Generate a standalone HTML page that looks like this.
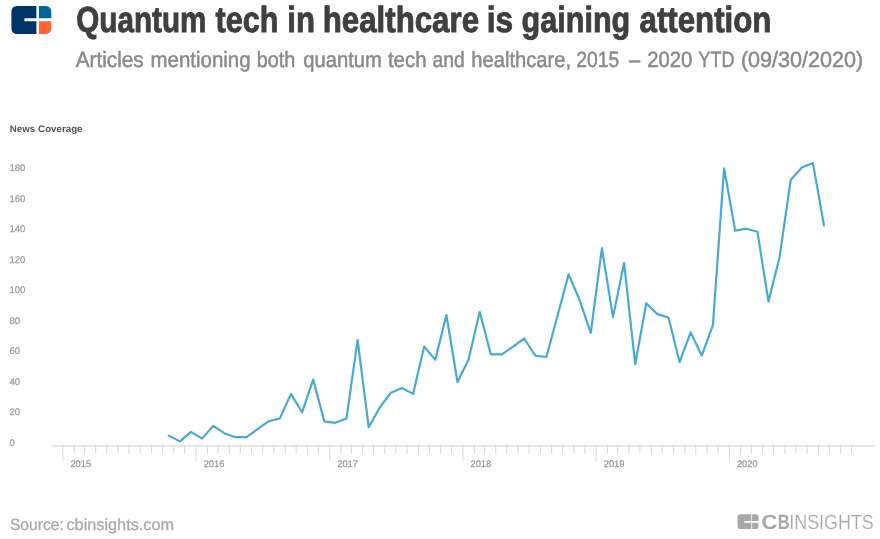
<!DOCTYPE html>
<html lang="en">
<head>
<meta charset="utf-8">
<title>Quantum tech in healthcare is gaining attention</title>
<style>
html,body{margin:0;padding:0;background:#fff;}
body{width:880px;height:539px;overflow:hidden;}
svg{display:block;}
g.ns text{vector-effect:non-scaling-stroke;}
text{text-rendering:geometricPrecision;font-family:"Liberation Sans",sans-serif;}
</style>
</head>
<body>
<svg width="880" height="539" viewBox="0 0 880 539">
<rect width="880" height="539" fill="#ffffff"/>
<!-- CB logo -->
<g>
<path d="M16.9 5.9 H36.4 V18.3 H24.4 V21.3 H36.4 V34.1 H16.9 A5.5 5.5 0 0 1 11.4 28.6 V11.4 A5.5 5.5 0 0 1 16.9 5.9 Z" fill="#003366"/>
<path d="M38.9 5.9 H45.8 A5.5 5.5 0 0 1 51.3 11.4 V18.3 H38.9 Z" fill="#006699"/>
<path d="M38.9 21.3 H51.3 V28.6 A5.5 5.5 0 0 1 45.8 34.1 H38.9 Z" fill="#ff6633"/>
</g>
<g font-size="36.3" font-weight="bold" fill="#3f3f3f" stroke="#3f3f3f" stroke-width="0.9" vector-effect="non-scaling-stroke" class="ns">
<text transform="translate(76.26,31.8) scale(0.8166,1) rotate(0.02)">Quantum</text>
<text transform="translate(215.47,31.8) scale(0.8421,1) rotate(0.02)">tech</text>
<text transform="translate(287.27,31.8) scale(0.8583,1) rotate(0.02)">in</text>
<text transform="translate(322.66,31.8) scale(0.8613,1) rotate(0.02)">healthcare</text>
<text transform="translate(486.74,31.8) scale(0.8712,1) rotate(0.02)">is</text>
<text transform="translate(521.53,31.8) scale(0.8428,1) rotate(0.02)">gaining</text>
<text transform="translate(639.51,31.8) scale(0.8611,1) rotate(0.02)">attention</text>
</g>
<g font-size="22" fill="#8a8a8a" stroke="#8a8a8a" stroke-width="0.5" class="ns">
<text transform="translate(75.70,67.3) scale(0.9435,1) rotate(0.02)">Articles</text>
<text transform="translate(150.57,67.3) scale(0.9291,1) rotate(0.02)">mentioning</text>
<text transform="translate(256.76,67.3) scale(0.9003,1) rotate(0.02)">both</text>
<text transform="translate(303.14,67.3) scale(0.9193,1) rotate(0.02)">quantum</text>
<text transform="translate(387.94,67.3) scale(0.9279,1) rotate(0.02)">tech</text>
<text transform="translate(432.43,67.3) scale(0.8800,1) rotate(0.02)">and</text>
<text transform="translate(471.34,67.3) scale(0.9162,1) rotate(0.02)">healthcare,</text>
<text transform="translate(576.28,67.3) scale(0.8792,1) rotate(0.02)">2015</text>
<text transform="translate(629.00,67.3) scale(0.5114,1) rotate(0.02)">—</text>
<text transform="translate(647.24,67.3) scale(0.9208,1) rotate(0.02)">2020</text>
<text transform="translate(698.60,67.3) scale(0.8125,1) rotate(0.02)">YTD</text>
<text transform="translate(740.90,67.3) scale(0.9791,1) rotate(0.02)">(09/30/2020)</text>
</g>
<g font-size="9.6" font-weight="bold" fill="#555555">
<text transform="translate(9.84,131.6) scale(1.0115,1) rotate(0.02)">News</text>
<text transform="translate(38.11,131.6) scale(1.0150,1) rotate(0.02)">Coverage</text>
</g>
<g font-size="9.6" fill="#9c9c9c" stroke="#9c9c9c" stroke-width="0.25">
<text transform="translate(9.4,446.0) rotate(0.02)">0</text>
<text transform="translate(9.4,415.4) rotate(0.02)">20</text>
<text transform="translate(9.4,384.9) rotate(0.02)">40</text>
<text transform="translate(9.4,354.3) rotate(0.02)">60</text>
<text transform="translate(9.4,323.8) rotate(0.02)">80</text>
<text transform="translate(9.4,293.2) rotate(0.02)">100</text>
<text transform="translate(9.4,262.7) rotate(0.02)">120</text>
<text transform="translate(9.4,232.1) rotate(0.02)">140</text>
<text transform="translate(9.4,201.6) rotate(0.02)">160</text>
<text transform="translate(9.4,171.0) rotate(0.02)">180</text>
</g>
<g stroke="#d8d8d8" stroke-width="1" fill="none">
<line x1="52" y1="445.8" x2="875.5" y2="445.8" stroke-width="1.15"/>
<line x1="62.90" y1="445.5" x2="62.90" y2="461"/>
<line x1="74.22" y1="445.5" x2="74.22" y2="453.7"/>
<line x1="84.44" y1="445.5" x2="84.44" y2="453.7"/>
<line x1="95.75" y1="445.5" x2="95.75" y2="453.7"/>
<line x1="106.70" y1="445.5" x2="106.70" y2="453.7"/>
<line x1="118.02" y1="445.5" x2="118.02" y2="453.7"/>
<line x1="128.97" y1="445.5" x2="128.97" y2="453.7"/>
<line x1="140.28" y1="445.5" x2="140.28" y2="453.7"/>
<line x1="151.60" y1="445.5" x2="151.60" y2="453.7"/>
<line x1="162.55" y1="445.5" x2="162.55" y2="453.7"/>
<line x1="173.86" y1="445.5" x2="173.86" y2="453.7"/>
<line x1="184.81" y1="445.5" x2="184.81" y2="453.7"/>
<line x1="196.13" y1="445.5" x2="196.13" y2="461"/>
<line x1="207.44" y1="445.5" x2="207.44" y2="453.7"/>
<line x1="218.03" y1="445.5" x2="218.03" y2="453.7"/>
<line x1="229.34" y1="445.5" x2="229.34" y2="453.7"/>
<line x1="240.29" y1="445.5" x2="240.29" y2="453.7"/>
<line x1="251.61" y1="445.5" x2="251.61" y2="453.7"/>
<line x1="262.56" y1="445.5" x2="262.56" y2="453.7"/>
<line x1="273.87" y1="445.5" x2="273.87" y2="453.7"/>
<line x1="285.19" y1="445.5" x2="285.19" y2="453.7"/>
<line x1="296.14" y1="445.5" x2="296.14" y2="453.7"/>
<line x1="307.45" y1="445.5" x2="307.45" y2="453.7"/>
<line x1="318.40" y1="445.5" x2="318.40" y2="453.7"/>
<line x1="329.72" y1="445.5" x2="329.72" y2="461"/>
<line x1="341.03" y1="445.5" x2="341.03" y2="453.7"/>
<line x1="351.25" y1="445.5" x2="351.25" y2="453.7"/>
<line x1="362.57" y1="445.5" x2="362.57" y2="453.7"/>
<line x1="373.52" y1="445.5" x2="373.52" y2="453.7"/>
<line x1="384.83" y1="445.5" x2="384.83" y2="453.7"/>
<line x1="395.78" y1="445.5" x2="395.78" y2="453.7"/>
<line x1="407.10" y1="445.5" x2="407.10" y2="453.7"/>
<line x1="418.42" y1="445.5" x2="418.42" y2="453.7"/>
<line x1="429.37" y1="445.5" x2="429.37" y2="453.7"/>
<line x1="440.68" y1="445.5" x2="440.68" y2="453.7"/>
<line x1="451.63" y1="445.5" x2="451.63" y2="453.7"/>
<line x1="462.95" y1="445.5" x2="462.95" y2="461"/>
<line x1="474.26" y1="445.5" x2="474.26" y2="453.7"/>
<line x1="484.48" y1="445.5" x2="484.48" y2="453.7"/>
<line x1="495.80" y1="445.5" x2="495.80" y2="453.7"/>
<line x1="506.75" y1="445.5" x2="506.75" y2="453.7"/>
<line x1="518.06" y1="445.5" x2="518.06" y2="453.7"/>
<line x1="529.01" y1="445.5" x2="529.01" y2="453.7"/>
<line x1="540.33" y1="445.5" x2="540.33" y2="453.7"/>
<line x1="551.64" y1="445.5" x2="551.64" y2="453.7"/>
<line x1="562.59" y1="445.5" x2="562.59" y2="453.7"/>
<line x1="573.91" y1="445.5" x2="573.91" y2="453.7"/>
<line x1="584.86" y1="445.5" x2="584.86" y2="453.7"/>
<line x1="596.17" y1="445.5" x2="596.17" y2="461"/>
<line x1="607.49" y1="445.5" x2="607.49" y2="453.7"/>
<line x1="617.71" y1="445.5" x2="617.71" y2="453.7"/>
<line x1="629.02" y1="445.5" x2="629.02" y2="453.7"/>
<line x1="639.97" y1="445.5" x2="639.97" y2="453.7"/>
<line x1="651.29" y1="445.5" x2="651.29" y2="453.7"/>
<line x1="662.24" y1="445.5" x2="662.24" y2="453.7"/>
<line x1="673.55" y1="445.5" x2="673.55" y2="453.7"/>
<line x1="684.87" y1="445.5" x2="684.87" y2="453.7"/>
<line x1="695.82" y1="445.5" x2="695.82" y2="453.7"/>
<line x1="707.13" y1="445.5" x2="707.13" y2="453.7"/>
<line x1="718.08" y1="445.5" x2="718.08" y2="453.7"/>
<line x1="729.40" y1="445.5" x2="729.40" y2="461"/>
<line x1="740.72" y1="445.5" x2="740.72" y2="453.7"/>
<line x1="751.30" y1="445.5" x2="751.30" y2="453.7"/>
<line x1="762.62" y1="445.5" x2="762.62" y2="453.7"/>
<line x1="773.57" y1="445.5" x2="773.57" y2="453.7"/>
<line x1="784.88" y1="445.5" x2="784.88" y2="453.7"/>
<line x1="795.83" y1="445.5" x2="795.83" y2="453.7"/>
<line x1="807.15" y1="445.5" x2="807.15" y2="453.7"/>
<line x1="818.46" y1="445.5" x2="818.46" y2="453.7"/>
<line x1="829.41" y1="445.5" x2="829.41" y2="453.7"/>
<line x1="840.73" y1="445.5" x2="840.73" y2="453.7"/>
<line x1="851.68" y1="445.5" x2="851.68" y2="453.7"/>
</g>
<g font-size="9.6" fill="#989898" stroke="#989898" stroke-width="0.25" class="ns">
<text transform="translate(70.44,466.9) scale(0.9672,1) rotate(0.02)">2015</text>
<text transform="translate(203.66,466.9) scale(0.9683,1) rotate(0.02)">2016</text>
<text transform="translate(337.25,466.9) scale(0.9717,1) rotate(0.02)">2017</text>
<text transform="translate(470.48,466.9) scale(0.9683,1) rotate(0.02)">2018</text>
<text transform="translate(603.71,466.9) scale(0.9694,1) rotate(0.02)">2019</text>
<text transform="translate(736.94,466.9) scale(0.9660,1) rotate(0.02)">2020</text>
</g>
<polyline points="168.8,435.6 179.9,441.4 191.0,431.9 202.1,438.6 213.2,425.9 224.3,433.2 235.4,437.2 246.5,437.2 257.6,429.1 268.7,421.2 279.9,418.4 291.0,393.9 302.1,412.3 313.2,379.6 324.3,421.4 335.4,422.8 346.5,418.4 357.6,340.0 368.7,427.2 379.8,407.5 390.9,392.7 402.0,388.0 413.1,393.9 424.2,346.6 435.3,359.9 446.4,315.0 457.5,382.0 468.6,359.4 479.7,311.8 490.8,354.3 502.0,354.3 513.1,346.6 524.2,338.5 535.3,355.6 546.4,357.0 557.5,315.7 568.6,274.4 579.7,300.3 590.8,332.8 601.9,248.2 613.0,317.1 624.1,263.0 635.2,364.2 646.3,303.3 657.4,314.1 668.5,317.5 679.6,362.0 690.7,332.4 701.8,355.7 712.9,325.1 724.1,168.3 735.2,230.7 746.3,228.7 757.4,231.7 768.5,301.6 779.6,257.0 790.7,180.0 801.8,167.6 812.9,162.9 824.0,225.5" fill="none" stroke="#49aad1" stroke-width="2.2" stroke-linejoin="round" stroke-linecap="round"/>
<g font-size="16.2" fill="#aaaaaa" stroke="#aaaaaa" stroke-width="0.3" class="ns">
<text transform="translate(9.95,530) scale(0.9642,1) rotate(0.02)">Source:</text>
<text transform="translate(66.46,530) scale(1.0054,1) rotate(0.02)">cbinsights.com</text>
</g>
<!-- footer logo -->
<g fill="#a9a7a7">
<path d="M740.4 514.3 H751.3 V521.1 H744.3 V522.7 H751.3 V529.1 H740.4 Q737.6 529.1 737.6 526.3000000000001 V517.0999999999999 Q737.6 514.3 740.4 514.3 Z"/>
<path d="M752.1 514.3 H755.7 Q758.5 514.3 758.5 517.0999999999999 V521.1 H752.1 Z"/>
<path d="M752.1 522.7 H758.5 V526.3000000000001 Q758.5 529.1 755.7 529.1 H752.1 Z"/>
<g font-size="20.6" font-weight="bold"><text transform="translate(761.62,529.1) scale(1.0672,1) rotate(0.02)">C</text>
<text transform="translate(777.78,529.1) scale(0.8038,1) rotate(0.02)">B</text></g>
<g font-size="20.6" stroke="#ffffff" stroke-width="0.2" class="ns"><text transform="translate(789.24,529.1) scale(0.8692,1) rotate(0.02)">INSIGHTS</text></g>
</g>
</svg>
</body>
</html>
